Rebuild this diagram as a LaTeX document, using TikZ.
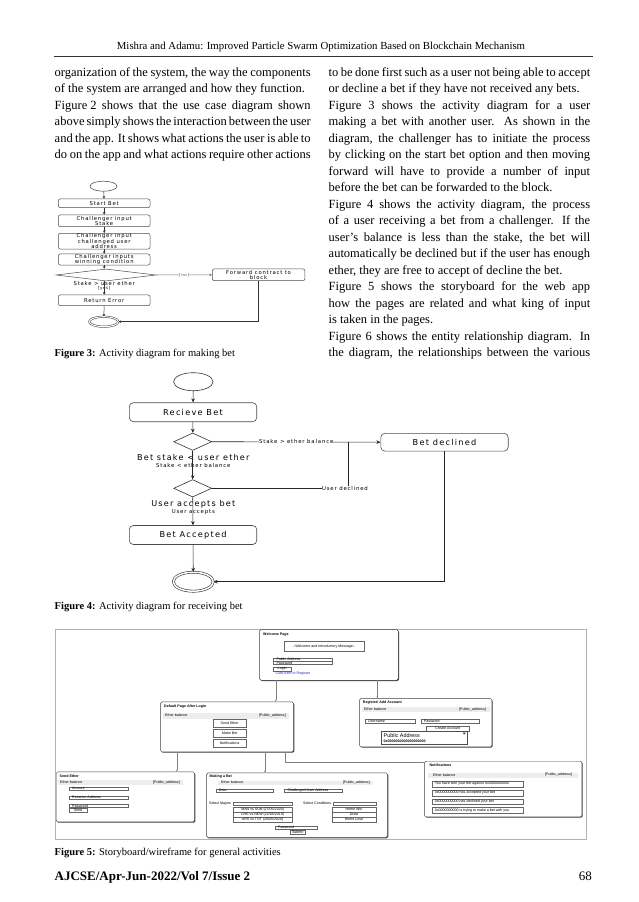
\documentclass[tikz,border=0pt]{standalone}
\usepackage{fontspec}
\setmainfont{Liberation Serif}
\newfontfamily\dg[LetterSpace=15]{DejaVu Sans}
\newfontfamily\sbf{Liberation Sans}
\usetikzlibrary{shapes.geometric,arrows.meta,shadows}
\definecolor{linkblue}{RGB}{30,40,200}
\tikzset{
 body/.style={anchor=base west, inner sep=0pt, font=\fontsize{12.5}{15}\selectfont},
 figcap/.style={anchor=base west, inner sep=0pt, font=\fontsize{10.5}{12}\selectfont},
 f3box/.style={draw=black!70, line width=0.5pt, rounded corners=2pt, minimum width=91.7pt, inner sep=0.3pt, align=center, font=\dg\fontsize{5.3}{5.3}\selectfont},
 f3lab/.style={inner sep=0.3pt, font=\dg\fontsize{5.3}{5.6}\selectfont},
 f3tiny/.style={inner sep=0.3pt, font=\dg\fontsize{4}{4.4}\selectfont},
 f3arr/.style={draw=black!80, line width=0.5pt, -{Stealth[length=2.6pt,width=2.6pt]}},
 f4box/.style={draw=black!70, line width=0.6pt, rounded corners=4pt, minimum width=127.4pt, minimum height=19pt, inner sep=0pt, font=\dg\fontsize{8.2}{9}\selectfont},
 f4big/.style={inner sep=0pt, font=\dg\fontsize{8.1}{9}\selectfont},
 f4small/.style={inner sep=0pt, font=\dg\fontsize{5.4}{6}\selectfont},
 f4arr/.style={draw=black!85, line width=0.6pt, -{Stealth[length=4pt,width=3.6pt]}},
 f4line/.style={draw=black!85, line width=0.6pt},
 sbox/.style={draw=black!75, line width=0.45pt, rounded corners=1.5pt, fill=white, anchor=north west, inner sep=0pt, drop shadow={shadow xshift=0.8pt, shadow yshift=-0.8pt, fill=black!80, opacity=0.9}},
 sbt/.style={anchor=west, inner sep=0pt, font=\sbf\bfseries\fontsize{3.6}{4}\selectfont},
 sbx/.style={anchor=west, inner sep=0pt, font=\sbf\fontsize{3.6}{4}\selectfont},
 sbin/.style={draw=black!60, line width=0.3pt, fill=white},
 sbband/.style={fill=black!7, anchor=north west, inner sep=0pt},
 sbline/.style={draw=black!50, line width=0.4pt, -{Latex[length=1.8pt,width=1.8pt]}},
}
\newcommand\jl[4]{\node[body] (#1) at (#2,#3) {\hbox to 256pt{#4}};}
\newcommand\jr[4]{\node[body] (#1) at (#2,#3) {\hbox to 261.5pt{#4}};}
\newcommand\rl[4]{\node[body] (#1) at (#2,#3) {#4};}
\newcommand\sbfield[6]{%
 \node[sbin, anchor=north west, minimum width=#4pt, minimum height=#5pt, inner sep=0pt] (#1) at (#2,#3) {};
 \node[sbx] (#1t) at ([xshift=3pt]#1.west) {#6};}
\newcommand\sbbtn[6]{\node[sbin, anchor=north west, minimum width=#4pt, minimum height=#5pt, inner sep=0pt, font=\sbf\fontsize{3.6}{4}\selectfont] (#1) at (#2,#3) {#6};}
\begin{document}
\begin{tikzpicture}[x=1pt,y=-1pt]
\useasboundingbox (0,0) rectangle (638,902);
\fill[white] (0,0) rectangle (638,902);
% header
\node[anchor=base, inner sep=0pt, font=\fontsize{10.8}{12}\selectfont] (hdr) at (321,49) {Mishra and Adamu: Improved Particle Swarm Optimization Based on Blockchain Mechanism};
\draw[line width=0.8pt, black!80] (54,56) -- (592.5,56);
% left column
\jl{l1}{54.5}{76}{organization of the system, the way the components}
\rl{l2}{54.5}{92.5}{of the system are arranged and how they function.}
\jl{l3}{54.5}{109}{\mbox{Figure 2} shows that the use case diagram shown}
\jl{l4}{54.5}{125.5}{above simply shows the interaction between the user}
\jl{l5}{54.5}{142}{and the app. It shows what actions the user is able to}
\jl{l6}{54.5}{158.5}{do on the app and what actions require other actions}
% right column
\jr{r1}{328.5}{76}{to be done first such as a user not being able to accept}
\rl{r2}{328.5}{92.5}{or decline a bet if they have not received any bets.}
\jr{r3}{328.5}{109}{Figure 3 shows the activity diagram for a user}
\jr{r4}{328.5}{125.5}{making a bet with another user. As shown in the}
\jr{r5}{328.5}{142}{diagram, the challenger has to initiate the process}
\jr{r6}{328.5}{158.5}{by clicking on the start bet option and then moving}
\jr{r7}{328.5}{175}{forward will have to provide a number of input}
\rl{r8}{328.5}{191.5}{before the bet can be forwarded to the block.}
\jr{r9}{328.5}{208}{Figure 4 shows the activity diagram, the process}
\jr{r10}{328.5}{224.5}{of a user receiving a bet from a challenger. If the}
\jr{r11}{328.5}{241}{user’s balance is less than the stake, the bet will}
\jr{r12}{328.5}{257.5}{automatically be declined but if the user has enough}
\rl{r13}{328.5}{274}{ether, they are free to accept of decline the bet.}
\jr{r14}{328.5}{290.5}{Figure 5 shows the storyboard for the web app}
\jr{r15}{328.5}{307}{how the pages are related and what king of input}
\rl{r16}{328.5}{323.5}{is taken in the pages.}
\jr{r17}{328.5}{340}{Figure 6 shows the entity relationship diagram. In}
\jr{r18}{328.5}{356.5}{the diagram, the relationships between the various}

% ---------- Figure 3 ----------
\node[draw=black!75, line width=0.5pt, ellipse, minimum width=27pt, minimum height=10pt, inner sep=0pt] (s3) at (103.5,186.2) {};
\node[f3box, minimum height=8.7pt] (sb) at (104.2,203.3) {Start Bet};
\node[f3box, minimum height=11.7pt] (cis) at (104.2,220.8) {Challenger input\\Stake};
\node[f3box, minimum height=15.7pt] (cic) at (104.2,241.2) {Challenger input\\challenged user\\address};
\node[f3box, minimum height=11pt] (ciw) at (104.2,259.5) {Challenger inputs\\winning condition};
\node[draw=black!70, line width=0.5pt, diamond, minimum width=100pt, minimum height=12pt, inner sep=0pt] (d3) at (106,275) {};
\node[f3lab] (l3a) at (104.2,283.4) {Stake > user ether};
\node[f3tiny] (l3b) at (104.2,288.8) {[yes]};
\node[f3box, minimum height=10.7pt] (re) at (104.2,300.3) {Return Error};
\node[draw=black!75, line width=0.5pt, ellipse, double, double distance=1pt, minimum width=29pt, minimum height=10pt, inner sep=0pt] (e3) at (103.8,321.7) {};
\node[f3box, minimum width=92.7pt, minimum height=11.7pt] (fw) at (258.6,274.8) {Forward contract to\\block};
\draw[f3arr] (s3) -- (sb);
\draw[f3arr] (sb) -- (cis);
\draw[f3arr] (cis) -- (cic);
\draw[f3arr] (cic) -- (ciw);
\draw[f3arr] (ciw) -- (ciw.south |- d3.north);
\draw[f3arr] (d3.south -| re.north) -- (re);
\draw[f3arr] (re) -- (e3);
\draw[f3arr, draw=black!55] (d3.east) -- node[f3tiny, fill=white, text=black!70] (l3no) {[no]} (fw.west);
\draw[f3arr] (fw.south) |- (e3.east);

% ---------- Figure 4 ----------
\node[draw=black!80, line width=0.6pt, ellipse, minimum width=39.4pt, minimum height=18pt, inner sep=0pt] (s4) at (193.3,381.7) {};
\node[f4box] (rb) at (193,412.2) {Recieve Bet};
\node[draw=black!80, line width=0.6pt, diamond, minimum width=38pt, minimum height=17.4pt, inner sep=0pt] (d41) at (192.7,441.7) {};
\node[f4box, minimum height=17.7pt] (bd) at (444.5,442.2) {Bet declined};
\node[f4big] (g1) at (193.3,457.7) {Bet stake < user ether};
\node[f4small] (g2) at (193.3,465.9) {Stake < ether balance};
\node[draw=black!80, line width=0.6pt, diamond, minimum width=38pt, minimum height=17.4pt, inner sep=0pt] (d42) at (192.7,488.3) {};
\node[f4big] (g3) at (193.3,504.3) {User accepts bet};
\node[f4small] (g4) at (193.3,512.5) {User accepts};
\node[f4box] (ba) at (193,535) {Bet Accepted};
\node[draw=black!80, line width=0.6pt, ellipse, double, double distance=1.5pt, minimum width=40pt, minimum height=19pt, inner sep=0pt] (e4) at (193.3,581.7) {};
\coordinate (jn) at (348.3,441.7);
\draw[f4arr] (s4) -- (rb);
\draw[f4arr] (rb) -- (d41);
\draw[f4arr] (d41) -- (d42);
\draw[f4arr] (d42) -- (ba);
\draw[f4arr] (ba) -- (e4);
\draw[f4arr] (d41.east) -- node[f4small, fill=white, pos=0.5] (g5) {Stake > ether balance} (bd.west);
\draw[f4line] (d42.east) -| (jn);
\node[f4small, fill=white, inner xsep=0.5pt] (g6) at (345,488.3) {User declined};
\draw[f4arr] (bd.south) |- (e4.east);

% ---------- captions ----------
\node[figcap] (c3) at (54.5,356.5) {\textbf{Figure 3:} Activity diagram for making bet};
\node[figcap] (c4) at (54.5,609) {\textbf{Figure 4:} Activity diagram for receiving bet};

% ---------- Figure 5 ----------
\node[draw=black!30, line width=0.8pt, anchor=north west, minimum width=531pt, minimum height=210.5pt, inner sep=0pt] (frame) at (55,628.5) {};
% welcome page
\node[sbox, minimum width=138.7pt, minimum height=50.7pt] (wp) at (259.3,629.3) {};
\node[sbt] (wpt) at (263,635) {Welcome Page};
\node[sbin, anchor=north west, minimum width=80pt, minimum height=10pt, inner sep=0pt, font=\sbf\fontsize{3.6}{4}\selectfont] (wpm) at (284,641) {{-}{-}Welcome and Introductory Message{-}{-}};
\sbfield{wpa}{273.3}{657.7}{58.4}{3.2}{Public Address}
\sbfield{wpp}{273.3}{661}{58.4}{3.2}{Password}
\sbbtn{wpl}{273.3}{666.7}{17.4}{4}{Login}
\node[sbx, text=linkblue] (wpr) at (275.5,674) {Click here to Register};
% default page
\node[sbox, minimum width=133pt, minimum height=50pt] (dp) at (160.3,701.7) {};
\node[sbt] (dpt) at (164,706.7) {Default Page After Login};
\node[sbband, minimum width=125.6pt, minimum height=6pt] (dpb) at (162.7,712.5) {};
\node[sbx] (dpe) at (165,715.5) {Ether balance};
\node[sbx, anchor=east] (dpa) at (286,715.5) {[Public\_address]};
\sbbtn{dps}{213}{719.3}{33}{8}{Send Ether}
\sbbtn{dpm}{213}{729.3}{33}{8}{Make Bet}
\sbbtn{dpn}{213}{739.3}{33}{8}{Notifications}
% register
\node[sbox, minimum width=132.4pt, minimum height=48.4pt] (rg) at (359.3,698.3) {};
\node[sbt] (rgt) at (362.7,702.7) {Register/ Add Account};
\node[sbband, minimum width=128pt, minimum height=5pt] (rgb) at (361.5,706.8) {};
\node[sbx] (rge) at (364,709.3) {Ether balance};
\node[sbx, anchor=east] (rga) at (486,709.3) {[Public\_address]};
\sbfield{rgu}{365}{719.3}{50}{4}{Username}
\sbfield{rgp}{420.7}{719.3}{58.6}{4}{Password}
\sbbtn{rgc}{426}{726}{43.3}{4.7}{Create Account}
\node[sbin, anchor=north west, minimum width=86.6pt, minimum height=13.3pt, inner sep=0pt, draw=black!70, drop shadow={shadow xshift=0.6pt, shadow yshift=-0.6pt, fill=black!60, opacity=0.8}] (rgpa) at (380.7,730.7) {};
\node[anchor=west, inner sep=0pt, font=\sbf\fontsize{5.4}{6}\selectfont] (rgpt) at (383.5,735.7) {Public Address};
\node[sbt] (rgpn) at (383.5,741) {0x0000000000000000000};
\fill[black!80] (462.6,732.6) -- (465.8,732.6) -- (464.2,734.6) -- cycle;
% send ether
\node[sbox, minimum width=138.3pt, minimum height=50pt] (se) at (56,771.7) {};
\node[sbt] (set) at (59.5,776.7) {Send Ether};
\node[sbband, minimum width=125pt, minimum height=4.6pt] (seb) at (57.5,780) {};
\node[sbx] (see) at (60,782.3) {Ether balance};
\node[sbx, anchor=east] (sea) at (180,782.3) {[Public\_address]};
\sbfield{sef1}{69}{786.7}{58.7}{2.8}{Amount}
\sbfield{sef2}{69}{795.7}{58.7}{2.8}{Receiver Address}
\sbfield{sef3}{69}{804.3}{58.7}{2.8}{Password}
\sbbtn{ses}{69}{808.3}{17.7}{4}{Send}
% making a bet
\node[sbox, minimum width=181pt, minimum height=64.6pt] (mb) at (206.3,772.7) {};
\node[sbt] (mbt) at (209.5,776.7) {Making a Bet};
\node[sbband, minimum width=155pt, minimum height=4.8pt] (mbb) at (218,780.3) {};
\node[sbx] (mbe) at (221,782.7) {Ether balance};
\node[sbx, anchor=east] (mba) at (370,782.7) {[Public\_address]};
\sbfield{mbd}{215.7}{789}{57.6}{2.9}{Date}
\sbfield{mbc}{284.3}{789}{58}{2.9}{Challenged User Address}
\node[sbx] (mbsm) at (209,803.3) {Select Majors};
\node[sbin, anchor=north west, minimum width=58.4pt, minimum height=3.3pt, inner sep=0pt] (mbdm) at (233.3,801.7) {};
\sbbtn{mbr1}{233.3}{806.5}{58.4}{5}{MAN vs SUN (27/05/2020)}
\sbbtn{mbr2}{233.3}{811.5}{58.4}{5}{CHE vs NEW (22/05/2019)}
\sbbtn{mbr3}{233.3}{816.5}{58.4}{5}{ARS vs TOT (20/05/2020)}
\node[sbx] (mbsc) at (303,803.3) {Select Conditions};
\node[sbin, anchor=north west, minimum width=43pt, minimum height=3.3pt, inner sep=0pt] (mbdc) at (333,801.7) {};
\sbbtn{mbc1}{331.7}{806.5}{44.3}{5}{Home Win}
\sbbtn{mbc2}{331.7}{811.5}{44.3}{5}{Draw}
\sbbtn{mbc3}{331.7}{816.5}{44.3}{5}{Home Lose}
\sbfield{mbpw}{275}{826}{41.7}{2.8}{Password}
\sbbtn{mbsu}{290}{830}{15}{4.3}{Submit}
% notifications
\node[sbox, minimum width=157.4pt, minimum height=55.7pt] (nt) at (424.3,761) {};
\node[sbt] (ntt) at (429.3,765.7) {Notifications};
\node[sbband, minimum width=150pt, minimum height=4.6pt] (ntb) at (428,772.7) {};
\node[sbx] (nte) at (433,775) {Ether balance};
\node[sbx, anchor=east] (nta) at (572,775) {[Public\_address]};
\sbfield{nt1}{431.7}{781}{91.6}{5.7}{You have won your bet against 0x0000000000}
\sbfield{nt2}{431.7}{790}{91.6}{5.7}{0x0000000000 has accepted your bet}
\sbfield{nt3}{431.7}{799}{91.6}{5.3}{0x0000000000 has declined your bet}
\sbfield{nt4}{431.7}{807.3}{91.6}{6}{0x0000000000 is trying to make a bet with you}
% connectors
\draw[sbline] ([xshift=16.4pt]wp.south west) -- ([xshift=16.4pt]wp.south west |- dp.north);
\draw[sbline] ([xshift=118pt]wp.south west) -- ([xshift=118pt]wp.south west |- rg.north);
\draw[sbline] ([xshift=16.4pt]dp.south west) -- ([xshift=16.4pt]dp.south west |- se.north);
\draw[sbline] ([xshift=104.7pt]dp.south west) -- ([xshift=104.7pt]dp.south west |- mb.north);
\draw[sbline] ([xshift=124.7pt]dp.south west) |- ([yshift=-1.5pt]nt.north west);

\node[figcap] (c5) at (54.5,855.5) {\textbf{Figure 5:} Storyboard/wireframe for general activities};
% footer
\node[anchor=base west, inner sep=0pt, font=\fontsize{13}{15}\selectfont\bfseries] (ft) at (54.5,880) {AJCSE/Apr-Jun-2022/Vol 7/Issue 2};
\node[anchor=base east, inner sep=0pt, font=\fontsize{13}{15}\selectfont] (pg) at (592,880) {68};
\end{tikzpicture}
\end{document}
